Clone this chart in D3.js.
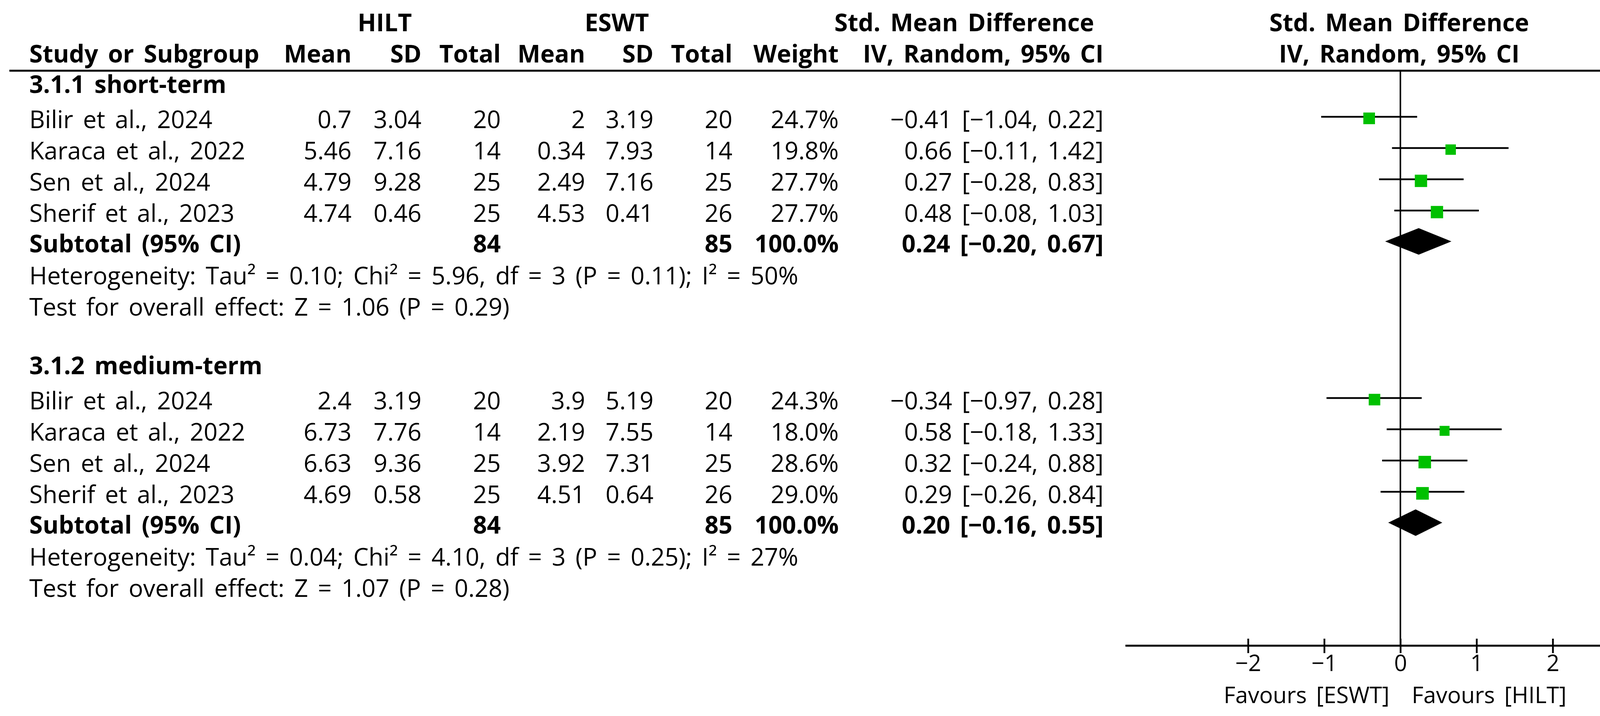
<!DOCTYPE html>
<html>
<head>
<meta charset="utf-8">
<script src="https://cdn.jsdelivr.net/npm/d3@7"></script>
<style>
body { margin: 0; background: #fff; overflow: hidden; }
svg { display: block; }
text { font-family: 'Open Sans', sans-serif; fill: #000; white-space: pre; word-spacing: 9px; }
</style>
</head>
<body>
<div id="chart-area"></div>
<script>
var studies = ['Bilir et al., 2024', 'Karaca et al., 2022', 'Sen et al., 2024', 'Sherif et al., 2023']
var subgroups = ['3.1.1 short-term', '3.1.2 medium-term']

// one inner array per subgroup (short-term, medium-term)
var hiltMean = [[0.7, 5.46, 4.79, 4.74], [2.4, 6.73, 6.63, 4.69]]
var hiltSD = [[3.04, 7.16, 9.28, 0.46], [3.19, 7.76, 9.36, 0.58]]
var hiltN = [[20, 14, 25, 25], [20, 14, 25, 25]]
var eswtMean = [[2, 0.34, 2.49, 4.53], [3.9, 2.19, 3.92, 4.51]]
var eswtSD = [[3.19, 7.93, 7.16, 0.41], [5.19, 7.55, 7.31, 0.64]]
var eswtN = [[20, 14, 25, 26], [20, 14, 25, 26]]
var weight = [[24.7, 19.8, 27.7, 27.7], [24.3, 18.0, 28.6, 29.0]]
var smd = [[-0.41, 0.66, 0.27, 0.48], [-0.34, 0.58, 0.32, 0.29]]
var smdLo = [[-1.04, -0.11, -0.28, -0.08], [-0.97, -0.18, -0.24, -0.26]]
var smdHi = [[0.22, 1.42, 0.83, 1.03], [0.28, 1.33, 0.88, 0.84]]

var subHiltN = [84, 84]
var subEswtN = [85, 85]
var subSmd = [0.24, 0.20]
var subLo = [-0.20, -0.16]
var subHi = [0.67, 0.55]
var tau2 = [0.10, 0.04]
var chi2 = [5.96, 4.10]
var dfHet = [3, 3]
var pHet = [0.11, 0.25]
var i2 = [50, 27]
var zVal = [1.06, 1.07]
var pZ = [0.29, 0.28]

var tickValues = [-2, -1, 0, 1, 2]
var favours = ['Favours [ESWT]', 'Favours [HILT]']

var W = 4357, H = 1833
var fs = 62
var green = '#00c000'

var svg = d3.select('#chart-area')
    .append('svg')
    .attr('width', W)
    .attr('height', H)
    .style('background', '#fff')

var f2 = d3.format('.2f')
var f1 = d3.format('.1f')

// right edges of the table columns
var colX = { hMean: 900, hSD: 1079, hN: 1282, eMean: 1498, eSD: 1673, eN: 1875, w: 2147, ci: 2825 }
var left = 75

var x = d3.scaleLinear()
    .domain([-2, 2])
    .range([3195, 3975])

// study rows are 80px apart
var row = d3.scaleLinear().domain([0, 1]).range([0, 80])
var groupTop = [238, 958]
var axisY = 1653
var lineY = 181

function txt(xp, yp, s, anchor, bold) {
  return svg.append('text')
    .attr('x', xp)
    .attr('y', yp)
    .attr('text-anchor', anchor || 'start')
    .style('font-size', fs + 'px')
    .style('font-weight', bold ? 'bold' : 'normal')
    .text(s)
}

// headers
txt(985, 80, 'HILT', 'middle', true)
txt(1579, 80, 'ESWT', 'middle', true)
txt(2801, 80, 'Std. Mean Difference', 'end', true)
txt(x(0) - 3, 80, 'Std. Mean Difference', 'middle', true)
txt(left, 160, 'Study or Subgroup', 'start', true)
txt(colX.hMean, 160, 'Mean', 'end', true)
txt(colX.hSD, 160, 'SD', 'end', true)
txt(colX.hN, 160, 'Total', 'end', true)
txt(colX.eMean, 160, 'Mean', 'end', true)
txt(colX.eSD, 160, 'SD', 'end', true)
txt(colX.eN, 160, 'Total', 'end', true)
txt(colX.w, 160, 'Weight', 'end', true)
txt(colX.ci, 160, 'IV, Random, 95% CI', 'end', true)
txt(x(0) - 3, 160, 'IV, Random, 95% CI', 'middle', true)

svg.append('line')
    .attr('x1', 24).attr('x2', 4340)
    .attr('y1', lineY).attr('y2', lineY)
    .attr('stroke', '#000').attr('stroke-width', 5)

// line of no effect
svg.append('line')
    .attr('x1', x(0)).attr('x2', x(0))
    .attr('y1', lineY).attr('y2', axisY)
    .attr('stroke', '#000').attr('stroke-width', 4)

function ciText(m, lo, hi) {
  return f2(m) + ' [' + f2(lo) + ', ' + f2(hi) + ']'
}

subgroups.forEach(function(sg, g) {
  var top = groupTop[g]
  txt(left, top, sg, 'start', true)

  var data = studies.map(function(s, i) {
    return { name: s, hm: hiltMean[g][i], hs: hiltSD[g][i], hn: hiltN[g][i],
      em: eswtMean[g][i], es: eswtSD[g][i], en: eswtN[g][i], w: weight[g][i],
      est: smd[g][i], lo: smdLo[g][i], hi: smdHi[g][i], y: top + 61 + row(i) }
  })

  data.forEach(function(d) {
    var ty = d.y + 29
    txt(left, ty, d.name)
    txt(colX.hMean, ty, String(d.hm), 'end')
    txt(colX.hSD, ty, String(d.hs), 'end')
    txt(colX.hN, ty, String(d.hn), 'end')
    txt(colX.eMean, ty, String(d.em), 'end')
    txt(colX.eSD, ty, String(d.es), 'end')
    txt(colX.eN, ty, String(d.en), 'end')
    txt(colX.w, ty, f1(d.w) + '%', 'end')
    txt(colX.ci, ty, ciText(d.est, d.lo, d.hi), 'end')
  })

  var gp = svg.append('g')
  gp.selectAll('line.ci').data(data).enter()
    .append('line')
    .attr('class', 'ci')
    .attr('x1', function(d) { return x(d.lo) })
    .attr('x2', function(d) { return x(d.hi) })
    .attr('y1', function(d) { return d.y })
    .attr('y2', function(d) { return d.y })
    .attr('stroke', '#000')
    .attr('stroke-width', 4.7)

  // square size follows the study weight
  gp.selectAll('rect').data(data).enter()
    .append('rect')
    .attr('x', function(d) { return x(d.est) - 3 * Math.sqrt(d.w) })
    .attr('y', function(d) { return d.y + 4 - 3 * Math.sqrt(d.w) })
    .attr('width', function(d) { return 6 * Math.sqrt(d.w) })
    .attr('height', function(d) { return 6 * Math.sqrt(d.w) })
    .attr('fill', green)

  // subtotal
  var sy = top + 61 + row(4) - 1
  var sb = sy + 28
  txt(left, sb, 'Subtotal (95% CI)', 'start', true)
  txt(colX.hN, sb, String(subHiltN[g]), 'end', true)
  txt(colX.eN, sb, String(subEswtN[g]), 'end', true)
  txt(colX.w, sb, '100.0%', 'end', true)
  txt(colX.ci, sb, ciText(subSmd[g], subLo[g], subHi[g]), 'end', true)

  gp.append('path')
    .attr('d', 'M' + x(subLo[g]) + ',' + sy +
      'L' + x(subSmd[g]) + ',' + (sy - 34) +
      'L' + x(subHi[g]) + ',' + sy +
      'L' + x(subSmd[g]) + ',' + (sy + 34) + 'Z')
    .attr('fill', '#000')

  // heterogeneity + overall effect
  txt(left, sy + 110, 'Heterogeneity: Tau\u00b2 = ' + f2(tau2[g]) + '; Chi\u00b2 = ' + f2(chi2[g]) +
    ', df = ' + dfHet[g] + ' (P = ' + f2(pHet[g]) + '); I\u00b2 = ' + i2[g] + '%')
  txt(left, sy + 190, 'Test for overall effect: Z = ' + f2(zVal[g]) + ' (P = ' + f2(pZ[g]) + ')')
})

// axis
var axis = d3.axisBottom(x)
    .tickValues(tickValues)
    .tickFormat(d3.format('d'))
    .tickSize(19)
    .tickSizeOuter(0)

var ga = svg.append('g')
    .attr('transform', 'translate(0,' + axisY + ')')
    .call(axis)

ga.select('.domain').remove()
ga.selectAll('.tick line').attr('y1', -18).attr('stroke-width', 4.5)
ga.selectAll('.tick text')
    .attr('y', 65).attr('dy', 0)
    .style('font-size', '58px')
    .style('font-family', "'Open Sans', sans-serif")

ga.append('line')
    .attr('x1', x(-3.61)).attr('x2', x(3.61))
    .attr('y1', 0).attr('y2', 0)
    .attr('stroke', '#000').attr('stroke-width', 5)

txt(x(0) - 28, 1800, favours[0], 'end').style('font-size', '58px')
txt(x(0) + 29, 1800, favours[1], 'start').style('font-size', '58px')
</script>
</body>
</html>
